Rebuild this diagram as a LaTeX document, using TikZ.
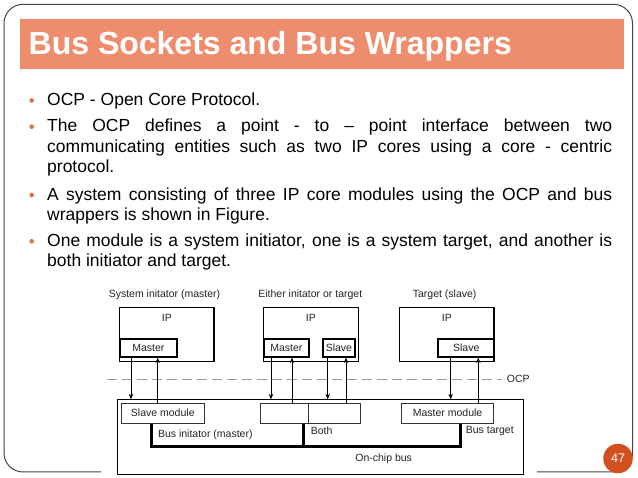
\documentclass[tikz,border=0pt]{standalone}
\usepackage{fontspec}
\setmainfont{Liberation Sans}
\usetikzlibrary{arrows.meta}
\definecolor{titlebar}{RGB}{238,141,110}
\definecolor{bulletc}{RGB}{226,112,62}
\definecolor{pagec}{RGB}{210,80,32}
\definecolor{framec}{RGB}{70,70,70}
\definecolor{diagtext}{RGB}{35,35,35}
\begin{document}
\begin{tikzpicture}[x=1pt,y=-1pt,
  para/.style={anchor=base west,inner sep=0pt,font=\fontsize{17.5}{20.5}\selectfont,text=black},
  bul/.style={circle,fill=bulletc,minimum size=4.6pt,inner sep=0pt},
  ipbox/.style={draw,line width=1.3pt,inner sep=0pt,anchor=north west,fill=white},
  portbox/.style={draw,line width=1.9pt,inner sep=0pt,anchor=north west,fill=white},
  modbox/.style={draw=black!80,line width=0.9pt,inner sep=0pt,anchor=north west,fill=white},
  lbl/.style={inner sep=0pt,font=\fontsize{10.5}{12}\selectfont,text=diagtext},
  arr/.style={line width=0.8pt,-{Stealth[length=5.5pt,width=4.5pt]}},
  busline/.style={line width=2.8pt},
  ocpline/.style={draw=black!40,line width=0.8pt,dash pattern=on 10pt off 5pt}]
\useasboundingbox (0,0) rectangle (638,478);
\fill[white] (0,0) rectangle (638,478);
% frame
\draw[framec,line width=1pt,rounded corners=19pt] (4,4.3) rectangle (632.5,472);
% title
\node[fill=titlebar,minimum width=604pt,minimum height=50pt,anchor=north west,inner sep=0pt] (bar) at (20,19) {};
\node[anchor=base west,inner sep=0pt,text=white,font=\fontsize{32}{38}\selectfont\bfseries] (title) at (28.5,55) {Bus Sockets and Bus Wrappers};
% bullets
\node[bul] (u1) at (31.7,100.5) {};
\node[para] (p1) at (47,105.7) {\parbox[t]{565pt}{OCP - Open Core Protocol.}};
\node[bul] (u2) at (31.7,126.7) {};
\node[para] (p2) at (47,131.9) {\parbox[t]{565pt}{The OCP defines a point - to – point interface between two\linebreak communicating entities such as two IP cores using a core - centric\linebreak protocol.}};
\node[bul] (u3) at (31.7,195) {};
\node[para] (p3) at (47,200.2) {\parbox[t]{565pt}{A system consisting of three IP core modules using the OCP and bus\linebreak wrappers is shown in Figure.}};
\node[bul] (u4) at (31.7,241.3) {};
\node[para] (p4) at (47,246.5) {\parbox[t]{565pt}{One module is a system initiator, one is a system target, and another is\linebreak both initiator and target.}};
% diagram area covers frame bottom
\fill[white] (100.7,282) rectangle (536.7,478);
% top labels
\node[lbl] (t1) at (164.5,294.3) {System initator (master)};
\node[lbl] (t2) at (310.3,294.3) {Either initator or target};
\node[lbl] (t3) at (444.7,294.3) {Target (slave)};
% IP boxes
\node[ipbox,minimum width=94.3pt,minimum height=54.3pt] (ip1) at (119,306.7) {};
\node[ipbox,minimum width=95pt,minimum height=54.3pt] (ip2) at (262.7,306.7) {};
\node[ipbox,minimum width=94.3pt,minimum height=54.3pt] (ip3) at (399,306.7) {};
\node[lbl] (ipl1) at ([yshift=-11.6pt]ip1.north) {IP};
\node[lbl] (ipl2) at ([yshift=-11.6pt]ip2.north) {IP};
\node[lbl] (ipl3) at ([yshift=-11.6pt]ip3.north) {IP};
% port boxes
\node[portbox,minimum width=57pt,minimum height=18pt] (m1) at (119,337.7) {};
\node[lbl] at (m1.center) {Master};
\node[portbox,minimum width=45.6pt,minimum height=18pt] (m2) at (262.7,337.7) {};
\node[lbl] at (m2.center) {Master};
\node[portbox,minimum width=32.5pt,minimum height=18pt] (s2) at (321.7,337.7) {};
\node[lbl] at (s2.center) {Slave};
\node[portbox,minimum width=56pt,minimum height=18pt] (s3) at (437.3,337.7) {};
\node[lbl] at (s3.center) {Slave};
% OCP line
\coordinate (o1) at (106.7,379);
\node[lbl,anchor=west] (ocp) at (506.7,379) {OCP};
\draw[ocpline,shorten >=5pt] (o1) -- (ocp.west);
% on-chip bus
\node[draw,line width=1pt,inner sep=0pt,anchor=north west,minimum width=406pt,minimum height=75pt] (bus) at (117.3,399.3) {};
\node[modbox,minimum width=83.3pt,minimum height=20pt] (sm) at (120.7,402.7) {};
\node[lbl] at (sm.center) {Slave module};
\node[modbox,minimum width=48pt,minimum height=20pt] (e1) at (260.3,402.7) {};
\node[modbox,minimum width=51.7pt,minimum height=20pt] (e2) at (308.3,402.7) {};
\node[modbox,minimum width=92.3pt,minimum height=20pt] (mm) at (401,402.7) {};
\node[lbl] at (mm.center) {Master module};
% thick bus lines
\coordinate (b1) at ([xshift=31pt]sm.south west);
\coordinate (b2) at ([xshift=-5pt]e2.south west);
\coordinate (b3) at ([xshift=59.7pt]mm.south west);
\coordinate (bb) at ([yshift=-23.3pt]b1);
\draw[busline] (b1) -- (bb) -| (b3);
\draw[busline] (b2) -- (b2 |- bb);
\node[lbl] (l1) at (205.3,434.3) {Bus initator (master)};
\node[lbl,anchor=west] (l2) at (310.7,430.7) {Both};
\node[lbl,anchor=west] (l3) at (465.7,430.7) {Bus target};
\node[lbl] (l4) at (383.7,459) {On-chip bus};
% arrows
\coordinate (a1) at ([xshift=12pt]m1.south west);
\draw[arr] (a1) -- (a1 |- bus.north);
\coordinate (a2) at ([xshift=37pt]sm.north west);
\draw[arr] (a2) -- (a2 |- m1.south);
\coordinate (a3) at ([xshift=8.3pt]m2.south west);
\draw[arr] (a3) -- (a3 |- bus.north);
\coordinate (a4) at ([xshift=31.7pt]e1.north west);
\draw[arr] (a4) -- (a4 |- m2.south);
\coordinate (a5) at ([xshift=6pt]s2.south west);
\draw[arr] (a5) -- (a5 |- bus.north);
\coordinate (a6) at ([xshift=37.7pt]e2.north west);
\draw[arr] (a6) -- (a6 |- s2.south);
\coordinate (a7) at ([xshift=13.4pt]s3.south west);
\draw[arr] (a7) -- (a7 |- bus.north);
\coordinate (a8) at ([xshift=77.3pt]mm.north west);
\draw[arr] (a8) -- (a8 |- s3.south);
% page number
\node[circle,fill=pagec,minimum size=29.5pt,inner sep=0pt,text=white,font=\fontsize{12.5}{14}\selectfont] (pg) at (618,458.5) {47};
\end{tikzpicture}
\end{document}
